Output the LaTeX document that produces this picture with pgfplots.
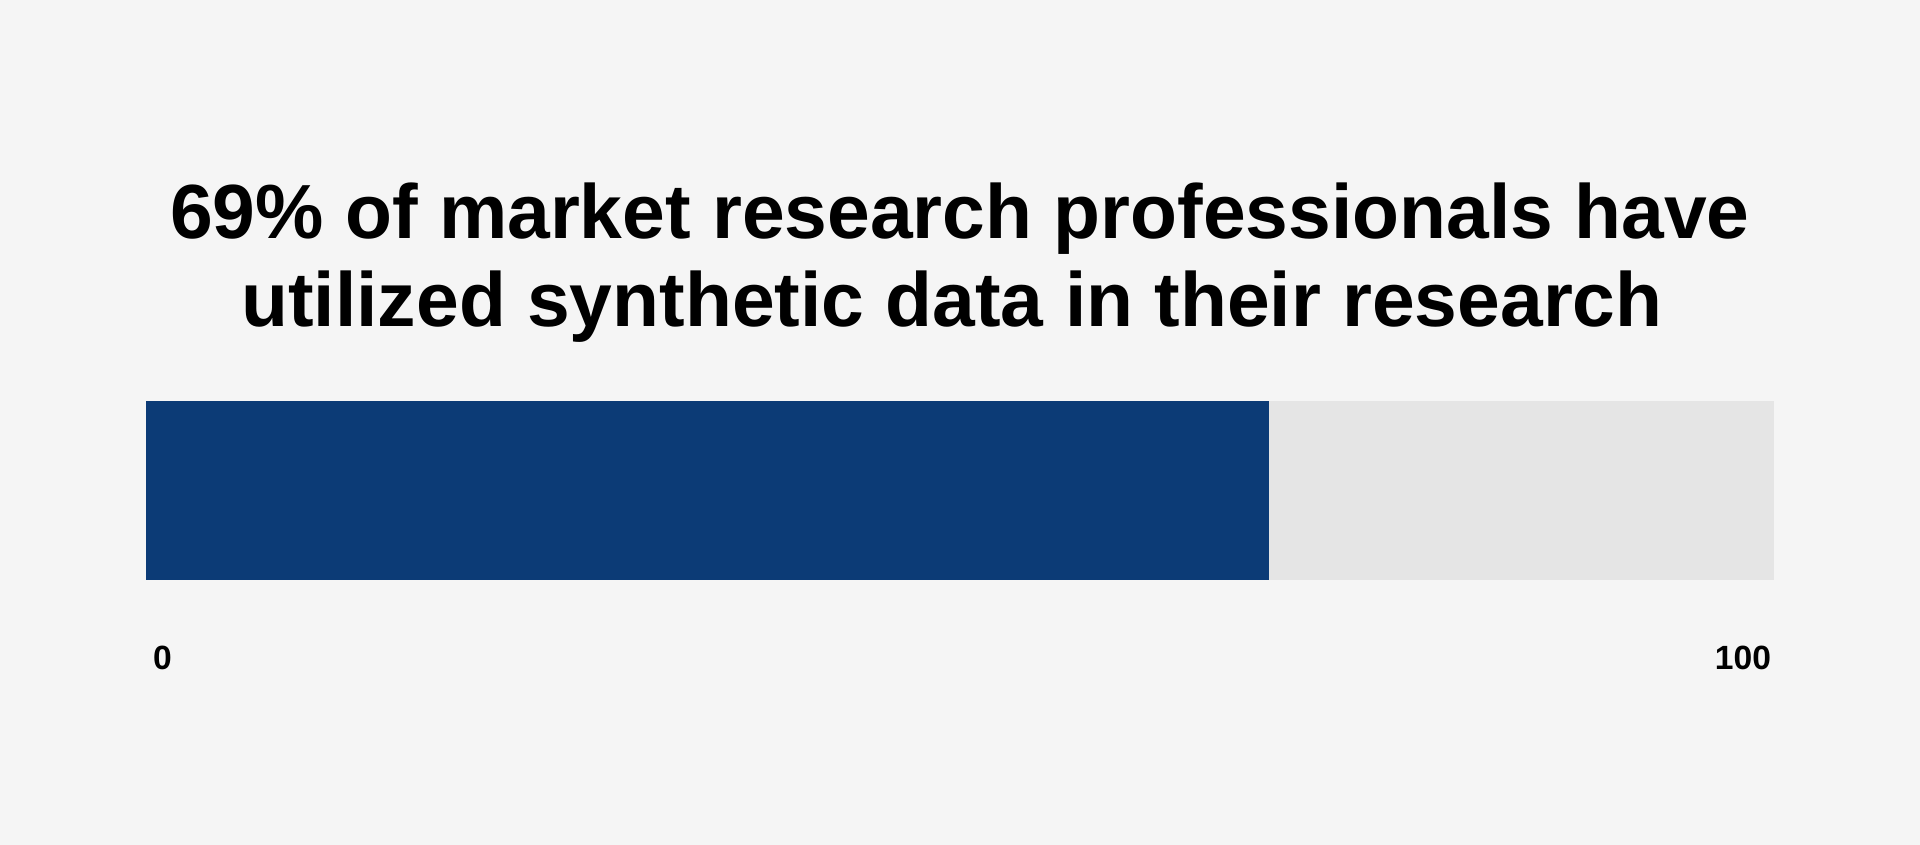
\documentclass[border=0pt]{standalone}
\usepackage{fontspec}
\setmainfont{Liberation Sans}
\usepackage{pgfplots}
\pgfplotsset{compat=1.18}
\definecolor{bgc}{HTML}{F5F5F5}
\definecolor{navy}{HTML}{0C3B76}
\definecolor{restgray}{HTML}{E5E5E5}
\begin{document}
\begin{tikzpicture}
\fill[bgc] (0,0) rectangle (960pt,422.5pt);
\node[anchor=base,inner sep=0pt,font=\fontsize{38.4}{44}\selectfont\bfseries] at (480pt,303pt) {69\% of market research professionals have};
\node[anchor=base,inner sep=0pt,font=\fontsize{38.4}{44}\selectfont\bfseries] at (476pt,259pt) {utilized synthetic data in their research};
\begin{axis}[
  at={(73pt,132.5pt)}, anchor=south west,
  scale only axis, width=814pt, height=89.5pt,
  xmin=0, xmax=100, ymin=-0.5, ymax=0.5,
  xbar stacked, bar width=89.5pt,
  axis line style={draw=none},
  major tick length=0pt,
  ytick=\empty,
  xtick={0,100},
  xticklabels={\makebox[0pt][l]{\hspace{3.5pt}0},\makebox[0pt][r]{100\hspace{1.5pt}}},
  xticklabel style={anchor=base, inner sep=0pt, yshift=-45pt, font=\fontsize{16.8}{20}\selectfont\bfseries},
  /pgf/number format/assume math mode=true,
  clip=false,
]
\addplot[fill=navy, draw=none] coordinates {(69,0)};
\addplot[fill=restgray, draw=none] coordinates {(31,0)};
\end{axis}
\end{tikzpicture}
\end{document}
